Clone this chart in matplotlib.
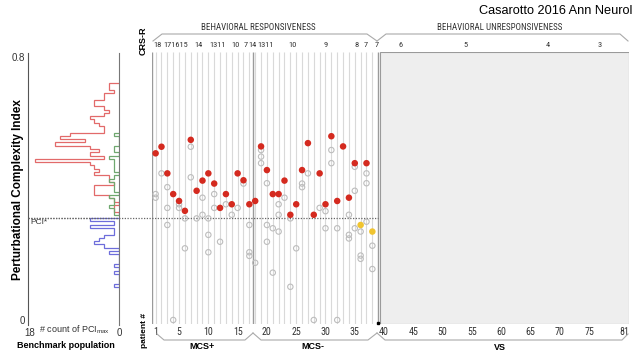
import matplotlib
matplotlib.use('agg')
import matplotlib.pyplot as plt
from matplotlib.lines import Line2D
from matplotlib.patches import Rectangle
from matplotlib import font_manager
from matplotlib.font_manager import FontProperties
import numpy as np

# ---- data ----
# PCImax per patient (1..38), yellow = below PCI*
pci_max = [0.507, 0.527, 0.446, 0.383, 0.362, 0.332, 0.548, 0.393, 0.424, 0.446,
           0.415, 0.341, 0.383, 0.352, 0.446, 0.425, 0.352, 0.362, 0.528, 0.456,
           0.383, 0.383, 0.424, 0.320, 0.352, 0.456, 0.538, 0.320, 0.446, 0.352,
           0.559, 0.362, 0.528, 0.372, 0.477, 0.289, 0.477, 0.269]
pci_star = 0.31

# other PCI measurements (open circles)
other_patient = [1, 1, 2, 3, 3, 3, 4, 5, 5, 6, 6, 7, 7, 8, 9, 9, 10, 10, 10,
                 11, 11, 12, 13, 14, 15, 16, 17, 17, 17, 18, 19, 19, 19,
                 20, 20, 20, 21, 21, 22, 22, 22, 23, 24, 24, 25, 26, 26, 27,
                 28, 29, 30, 30, 31, 31, 32, 32, 34, 34, 34, 35, 35, 35,
                 36, 36, 36, 37, 37, 37, 38, 38]
other_pci = [0.383, 0.372, 0.446, 0.404, 0.341, 0.289, 0.0, 0.352, 0.341, 0.309, 0.218,
             0.527, 0.434, 0.309, 0.372, 0.320, 0.309, 0.259, 0.206,
             0.383, 0.341, 0.238, 0.352, 0.320, 0.341, 0.415, 0.289, 0.206, 0.195,
             0.174, 0.517, 0.497, 0.477,
             0.416, 0.289, 0.238, 0.279, 0.144, 0.352, 0.320, 0.269, 0.372, 0.309, 0.101,
             0.218, 0.415, 0.404, 0.446,
             0.0, 0.341, 0.331, 0.279, 0.517, 0.477, 0.279, 0.0, 0.320, 0.259, 0.248,
             0.466, 0.393, 0.279,
             0.269, 0.196, 0.186, 0.446, 0.416, 0.299, 0.226, 0.155]

# benchmark histograms, 0.01 wide bins listed from the top bin downwards
red_top = 0.72
red_counts = [2, 2, 1, 3, 3, 5, 5, 3, 2, 3, 6, 5, 4, 3, 3, 10, 12, 7, 13, 6,
              4, 6, 3, 17, 6, 5, 4, 5, 2, 2, 1, 5, 5, 5, 2, 1, 0, 1, 1, 0]
green_top = 0.57
green_counts = [1, 0, 0, 0, 1, 1, 0, 2, 1, 1, 1, 1, 0, 1, 2, 1, 1, 1, 0, 2,
                1, 1, 2, 1, 1]
blue_top = 0.31
blue_counts = [6, 1, 6, 1, 1, 3, 4, 5, 3, 0, 2, 0, 0, 0, 1, 0, 1, 0, 0, 0, 1]

# CRS-R scores above the columns (label, patient position); crowded ones run together
crs_labels = ['18', '171615', '14', '1311', '10', '7',
              '14', '1311', '10', '9', '8', '7',
              '7', '6', '5', '4', '3']
crs_pos = [1.4, 4.5, 8.4, 11.5, 14.6, 16.3,
           17.6, 19.8, 24.3, 30.0, 35.4, 36.8,
           38.8, 42.8, 53.9, 67.9, 76.8]

patient_ticks = [1, 5, 10, 15, 20, 25, 30, 35, 40, 45, 50, 55, 60, 65, 70, 75, 81]
n_mcs = 38
mcs_split = 17.65
vs_split = 38.95

# ---- fonts ----
plt.rcParams['font.family'] = ['Liberation Sans', 'DejaVu Sans']
plt.rcParams['mathtext.fontset'] = 'custom'
plt.rcParams['mathtext.rm'] = 'Liberation Sans'

narrow_path = None
prefs = ['Liberation Sans Narrow', 'Roboto Condensed', 'Open Sans Condensed',
         'DejaVu Sans']
found = {}
for f in font_manager.fontManager.ttflist:
    cond = ('Narrow' in f.name or 'Condensed' in f.name or 'condensed' in str(f.stretch)
            or 'Condensed' in f.fname)
    if cond and f.style == 'normal' and f.weight in (400, 'normal', 'regular'):
        found.setdefault(f.name, f.fname)
for p in prefs:
    if p in found:
        narrow_path = found[p]
        break
if narrow_path is None and found:
    narrow_path = sorted(found.values())[0]
if narrow_path:
    narrow = FontProperties(fname=narrow_path)
    nscale = 1.0
else:
    narrow = FontProperties(family='Liberation Sans')
    nscale = 0.85

W, H = 638, 359
fig = plt.figure(figsize=(W / 100, H / 100), dpi=100)


def fx(x):
    return x / W


def fy(y):
    return 1 - y / H


def px_line(pts, **kw):
    xs = [fx(p[0]) for p in pts]
    ys = [fy(p[1]) for p in pts]
    fig.add_artist(Line2D(xs, ys, transform=fig.transFigure, **kw))


def nfont(size):
    fp = narrow.copy()
    fp.set_size(size * nscale)
    return fp


# ---- left histogram ----
axh = fig.add_axes([fx(28), fy(325), (119.3 - 28) / W, (325 - 52.7) / H])
axh.set_ylim(-0.0152, 0.813)
axh.set_xlim(18.4, 0)
for top, counts, col in [(red_top, red_counts, '#e26a6a'),
                         (green_top, green_counts, '#6fa86f'),
                         (blue_top, blue_counts, '#6d6ddb')]:
    edges = np.round(top - 0.01 * np.arange(len(counts) + 1), 3)[::-1]
    axh.stairs(counts[::-1], edges, orientation='horizontal', color=col, lw=0.9,
               baseline=0)
for s in ['top', 'bottom']:
    axh.spines[s].set_visible(False)
axh.spines['left'].set_color('#555555')
axh.spines['right'].set_color('#777777')
axh.set_yticks([0, 0.8])
axh.set_yticklabels(['0', '0.8'], fontsize=7, color='#333333')
axh.set_xticks([18, 0])
axh.set_xticklabels(['18', '0'], fontsize=7, color='#333333')
axh.tick_params(length=0, pad=2)
axh.axhline(pci_star, color='#666666', lw=0.9, ls=(0, (1, 1.2)), clip_on=False)

fig.text(fx(18.5), fy(190), 'Perturbational Complexity Index', rotation=90, fontsize=8.5,
         fontweight='bold', ha='center', va='center')
fig.text(fx(74), fy(330), '# count of PCI$_{\\mathrm{max}}$', fontsize=6.5,
         ha='center', va='center', color='#333333')
fig.text(fx(66), fy(346), 'Benchmark population', fontsize=6.5, fontweight='bold',
         ha='center', va='center')
fig.text(fx(30), fy(223), 'PCI*', fontsize=6, ha='left', va='center', color='#333333')

# ---- main panel ----
ax = fig.add_axes([fx(151.7), fy(324), (629.2 - 151.7) / W, (324 - 51.7) / H])
ax.set_xlim(0.33, 81.85)
ax.set_ylim(-0.0122, 0.8161)
for s in ax.spines.values():
    s.set_visible(False)

pats = np.arange(1, n_mcs + 1)
ax.vlines(pats, -0.0122, 0.8161, color='#d9d9d9', lw=0.8, zorder=1)
ax.vlines([0.33, mcs_split, vs_split], -0.0122, 0.8161, color='#9a9a9a', lw=1.0, zorder=1)
ax.add_patch(Rectangle((39.35, -0.0122), 81.85 - 39.35 - 0.05, 0.8161 + 0.0122,
                       facecolor='#eeeeee', edgecolor='#9a9a9a', lw=0.8, zorder=1))
ax.plot([-20.8, vs_split], [pci_star, pci_star], color='#666666', lw=0.9,
        ls=(0, (1, 1.2)), clip_on=False, zorder=2)
ax.plot([vs_split], [-0.009], marker='s', ms=2, color='black', clip_on=False, zorder=3)

ax.scatter(other_patient, other_pci, s=15, facecolor='none', edgecolor='#bdbdbd',
           lw=0.8, zorder=3, clip_on=False)
pm = np.array(pci_max)
above = pm >= pci_star
ax.scatter(pats[above], pm[above], s=22, color='#d42a1f', edgecolor='none', zorder=4)
ax.scatter(pats[~above], pm[~above], s=22, color='#f0c430', edgecolor='none', zorder=4)

ax.set_yticks([])
ax.set_xticks(patient_ticks)
ax.set_xticklabels([str(t) for t in patient_ticks], color='#333333')
for tl in ax.get_xticklabels():
    tl.set_fontproperties(nfont(7.2))
ax.tick_params(axis='x', length=0, pad=2.2)

crs_y = 1 + (51.7 - 45) / (324 - 51.7)
for lab, pos in zip(crs_labels, crs_pos):
    ax.text(pos, crs_y, lab, transform=ax.get_xaxis_transform(), fontproperties=nfont(6),
            ha='center', va='center', color='#333333')

fig.text(fx(143.5), fy(41), 'CRS-R', rotation=90, fontsize=6.5, fontweight='bold',
         ha='center', va='center')
fig.text(fx(144.5), fy(330), 'patient #', rotation=90, fontsize=6, fontweight='bold',
         ha='center', va='center')

# brackets
bk = dict(color='#aaaaaa', lw=0.8)
px_line([(153, 41), (162, 34), (367, 34), (377, 41)], **bk)
px_line([(377, 41), (386, 34), (620, 34), (628, 41)], **bk)
px_line([(157, 334), (164, 340), (245, 340), (253, 333)], **bk)
px_line([(253, 333), (261, 340), (368, 340), (377, 333)], **bk)
px_line([(377, 333), (385, 340), (622, 340), (628, 334)], **bk)

fig.text(fx(258), fy(27.5), 'BEHAVIORAL RESPONSIVENESS', fontproperties=nfont(6.5),
         ha='center', va='center', color='#333333')
fig.text(fx(500), fy(27.5), 'BEHAVIORAL UNRESPONSIVENESS', fontproperties=nfont(6.5),
         ha='center', va='center', color='#333333')
fig.text(fx(201.7), fy(346.7), 'MCS+', fontsize=6.5, fontweight='bold', ha='center', va='center')
fig.text(fx(313.3), fy(346.7), 'MCS-', fontsize=6.5, fontweight='bold', ha='center', va='center')
fig.text(fx(500), fy(347.7), 'VS', fontsize=6.5, fontweight='bold', ha='center', va='center')

fig.text(fx(632), fy(10.5), 'Casarotto 2016 Ann Neurol', fontsize=9.2, ha='right', va='center')

fig.savefig('out.png', dpi=100)
